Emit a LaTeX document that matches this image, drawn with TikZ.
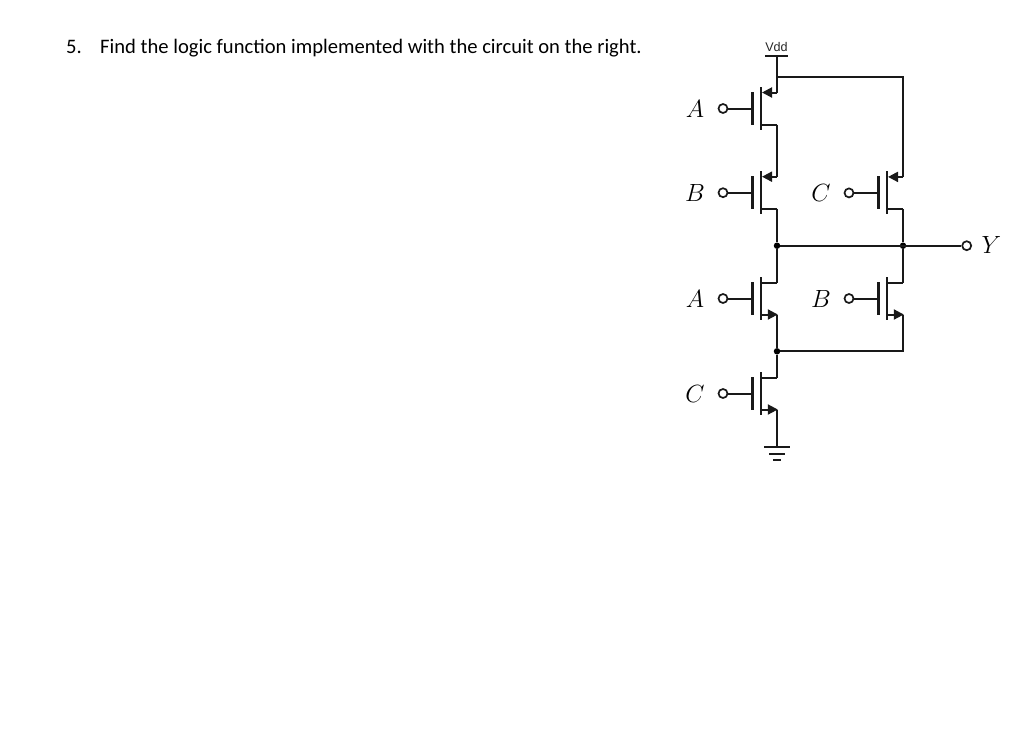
\documentclass[tikz,border=0pt]{standalone}
\usepackage{fontspec}
\setmainfont{Carlito}
\newfontfamily\vddfont{Liberation Sans}
\usepackage{amsmath}
\usetikzlibrary{arrows.meta, positioning, calc}
\tikzset{
  wire/.style={draw=black!90, line width=2pt},
  plate/.style={draw=black!90, line width=2.2pt},
  inpin/.style={circle, draw=black!90, fill=white, line width=1.7pt, inner sep=0pt, minimum size=9pt},
  junction/.style={circle, fill=black, inner sep=0pt, minimum size=6.5pt},
  inlabel/.style={font=\fontsize{25}{25}\selectfont, text=black, inner sep=0pt},
  question/.style={font=\fontsize{20.6}{24}\selectfont, text=black, inner sep=0pt, anchor=base west},
  arrowhead/.style={-{Triangle[length=10pt,width=10pt]}}
}
% name, rail x, gate y, input label
\newcommand{\mosbase}[4]{
  \coordinate (#1top) at (#2-16,#3-16);
  \coordinate (#1bot) at (#2-16,#3+16);
  \coordinate (#1g) at (#2-24.5,#3);
  \coordinate (#1ra) at (#2,#3-16);
  \coordinate (#1rb) at (#2,#3+16);
  \node[inpin] (#1in) at (#2-54,#3) {};
  \node[inlabel] (#1lab) at (#2-82,#3) {$#4$};
  \draw[plate] (#2-24.5,#3-16.5) -- (#2-24.5,#3+16.5);
  \draw[plate] (#2-16,#3-21.5) -- (#2-16,#3+21);
  \draw[wire] (#1in) -- (#1g);
}
\newcommand{\pmosfet}[4]{
  \mosbase{#1}{#2}{#3}{#4}
  \draw[wire, arrowhead] (#1ra) -- ($(#1top)+(1,0)$);
  \draw[wire] (#1bot) -- (#1rb);
}
\newcommand{\nmosfet}[4]{
  \mosbase{#1}{#2}{#3}{#4}
  \draw[wire] (#1top) -- (#1ra);
  \draw[wire, arrowhead] (#1bot) -- ($(#1rb)+(0.8,0)$);
}
\begin{document}
\begin{tikzpicture}[x=1pt, y=-1pt]
    \useasboundingbox (0,0) rectangle (1024,728);
    \fill[white] (0,0) rectangle (1024,728);
    \node[question] (qnum) at (66,53) {5.};
    \node[question] (qtext) at (100,53) {Find the logic function implemented with the circuit on the right.};

    % supply
    \node[font=\vddfont\fontsize{12.6}{14}\selectfont, inner sep=0pt, text=black!85] (vdd) at (776.5,47) {Vdd};
    \coordinate (vddL) at (765,55.7);
    \coordinate (vddR) at (788,55.7);
    \coordinate (vddC) at (777,55.7);
    \coordinate (branch) at (777,76.7);
    \coordinate (branchR) at (903,76.7);
    \draw[wire] (vddL) -- (vddR);

    % transistors
    \pmosfet{pa}{777}{108.5}{A}
    \pmosfet{pb}{777}{192.7}{B}
    \pmosfet{pc}{903}{192.9}{C}
    \nmosfet{na}{777}{298.5}{A}
    \nmosfet{nb}{903}{298.5}{B}
    \nmosfet{nc}{777}{393.5}{C}

    % output and mid nodes
    \node[junction] (ymid) at (777,245.7) {};
    \node[junction] (yright) at (903,245.7) {};
    \node[junction] (nmid) at (777,351.3) {};
    \coordinate (nright) at (903,351.3);
    \node[inpin] (ypin) at (966.7,245.7) {};
    \node[inlabel] (ylab) at (991.5,244.5) {$Y$};

    \draw[wire] (vddC) -- (para);
    \draw[wire] (branch) -- (branchR) -- (pcra);
    \draw[wire] (parb) -- (pbra);
    \draw[wire] (pbrb) -- (ymid) -- (nara);
    \draw[wire] (pcrb) -- (yright) -- (nbra);
    \draw[wire] (ymid) -- (ypin);
    \draw[wire] (narb) -- (nmid) -- (ncra);
    \draw[wire] (nbrb) -- (nright) -- (nmid);

    % ground
    \coordinate (gnd) at (777,446.7);
    \draw[wire] (ncrb) -- (gnd);
    \coordinate (gndAL) at (764,446.7);
    \coordinate (gndAR) at (789.5,446.7);
    \coordinate (gndBL) at (769,453.5);
    \coordinate (gndBR) at (785,453.5);
    \coordinate (gndCL) at (773,460);
    \coordinate (gndCR) at (781,460);
    \draw[wire] (gndAL) -- (gndAR);
    \draw[wire] (gndBL) -- (gndBR);
    \draw[wire] (gndCL) -- (gndCR);
\end{tikzpicture}
\end{document}
